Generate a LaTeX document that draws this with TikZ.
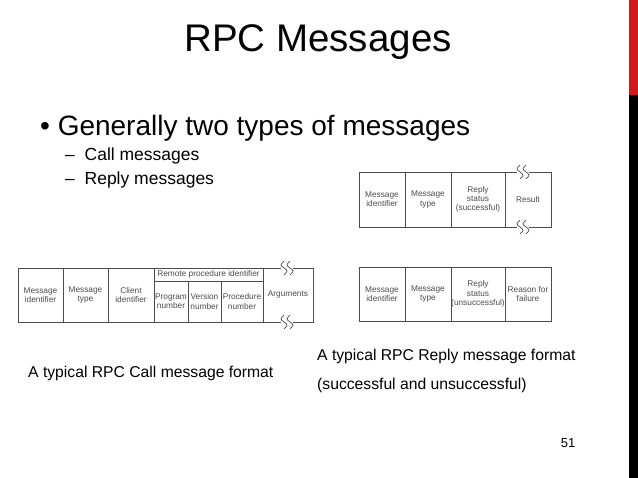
\documentclass[tikz,border=0pt]{standalone}
\usepackage{fontspec}
\setmainfont{Liberation Sans}
\begin{document}
\begin{tikzpicture}[x=1pt,y=-1pt,
  cell/.style={draw=black!70,line width=0.6pt,inner sep=0pt,align=center,font=\fontsize{8.3}{9.3}\selectfont,text=black!70},
  captxt/.style={anchor=west,font=\fontsize{15.7}{18}\selectfont,inner sep=0pt},
  sq/.style={draw=black!70,line width=0.7pt}]
\useasboundingbox (0,0) rectangle (638,478);
\fill[white] (0,0) rectangle (638,478);
\fill[red!80!black!90] (629,0) rectangle (638,95);
\fill[black] (629,95) rectangle (638,478);
\node[font=\fontsize{38.5}{42}\selectfont] (title) at (318,42) {RPC Messages};
\node[anchor=west,font=\fontsize{28}{32}\selectfont,inner sep=0pt] (b1) at (40,128) {• Generally two types of messages};
\node[anchor=west,font=\fontsize{17.5}{20}\selectfont,inner sep=0pt] (s1) at (65,156) {– \ Call messages};
\node[anchor=west,font=\fontsize{17.5}{20}\selectfont,inner sep=0pt] (s2) at (65,180) {– \ Reply messages};
% call message
\newcommand\cellbox[6]{\node[cell,minimum width={#4-#2},minimum height={#5-#3}] (#1) at ({(#2+#4)/2},{(#3+#5)/2}) {#6};}
\cellbox{c1}{18}{268}{63}{322}{Message\\identifier}
\cellbox{c2}{63}{268}{108}{322}{Message\\type}
\cellbox{c3}{108}{268}{154}{322}{Client\\identifier}
\cellbox{c4}{154}{268}{263}{281}{Remote procedure identifier}
\cellbox{c5}{154}{281}{188}{322}{Program\\number}
\cellbox{c6}{188}{281}{221}{322}{Version\\number}
\cellbox{c7}{221}{281}{263}{322}{Procedure\\number}
\cellbox{c8}{263}{268}{313}{322}{Arguments}
% reply success
\cellbox{r1}{359}{172}{405}{227}{Message\\identifier}
\cellbox{r2}{405}{172}{451}{227}{Message\\type}
\cellbox{r3}{451}{172}{505}{227}{Reply\\status\\(successful)}
\cellbox{r4}{505}{172}{551}{227}{Result}
% reply fail
\cellbox{f1}{359}{267}{405}{321}{Message\\identifier}
\cellbox{f2}{405}{267}{451}{321}{Message\\type}
\cellbox{f3}{451}{267}{505}{321}{Reply\\status\\(unsuccessful)}
\cellbox{f4}{505}{267}{551}{321}{Reason for\\failure}
% squiggles
\newcommand\squig[2]{\fill[white] ({#1-3},{#2-1}) rectangle ({#1+9},{#2+1});
  \foreach \d in {0,6}{\draw[sq] ({#1+\d},{#2-7}) .. controls ({#1+\d-4},{#2-3}) and ({#1+\d-4},{#2-3}) .. ({#1+\d},{#2}) .. controls ({#1+\d+4},{#2+3}) and ({#1+\d+4},{#2+3}) .. ({#1+\d},{#2+7});}}
\squig{284}{268}\squig{284}{322}
\squig{520}{172}\squig{520}{227}
\node[captxt] (cc) at (28,373) {A typical RPC Call message format};
\node[captxt] (rc1) at (317,356) {A typical RPC Reply message format};
\node[captxt] (rc2) at (317,385) {(successful and unsuccessful)};
\node[font=\fontsize{13}{15}\selectfont] (pg) at (568,443) {51};
\end{tikzpicture}
\end{document}
